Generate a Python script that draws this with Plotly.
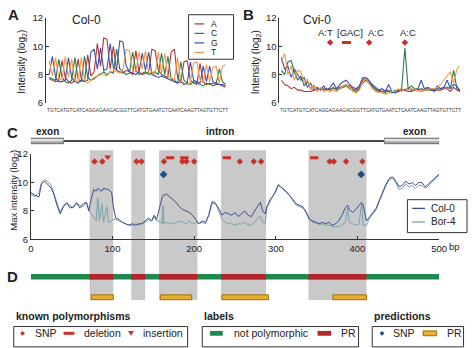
import plotly.graph_objects as go

W, H = 474, 348
def px(x): return x / W
def py(y): return 1 - y / H

FONT = "Liberation Sans, Arial, Helvetica, sans-serif"
TXT = "#222222"
AX = "#333333"

# ---------------- data ----------------
sequence = "TGTCATGTCATCAGGAGAAGACGGTTCATGTGAATCTCAATCAAGTTAGTGTTCTT"
positions = list(range(len(sequence)))
bases = ["A", "C", "G", "T"]
base_colors = ["#b03434", "#2d7a4a", "#3a50b0", "#f39a4a"]

# Panel A: Col-0 probe intensities (log2) per base
col0_A = [7.7,7.6,7.5,7.6,9.0,7.8,7.5,7.4,7.6,9.1,7.7,7.5,9.4,7.9,8.2,10.2,8.6,10.6,10.5,8.4,10.0,8.3,8.2,8.1,8.3,8.2,8.0,9.7,8.2,8.0,8.1,8.2,9.8,9.7,8.3,8.0,7.9,7.8,9.6,9.8,7.8,7.5,8.9,9.0,7.6,7.4,7.3,8.8,7.5,7.3,7.4,7.2,7.3,7.3,7.2,7.1]
col0_C = [7.8,7.7,7.6,9.1,7.8,7.5,7.4,7.6,9.2,7.7,7.5,9.3,7.8,7.6,7.7,7.9,8.0,8.2,8.0,8.2,8.1,9.8,8.4,8.2,8.0,8.1,9.6,8.3,8.0,8.1,8.2,8.0,8.1,8.2,8.0,9.5,8.0,9.3,7.7,7.6,7.4,8.9,7.6,7.4,7.3,7.5,7.4,7.3,7.2,7.4,7.3,7.4,7.3,8.4,7.5,7.3]
col0_G = [8.0,9.3,7.8,7.5,7.5,7.6,9.2,7.8,7.5,7.4,7.6,7.5,7.6,9.6,9.8,8.4,9.9,8.3,8.4,10.2,8.5,8.4,10.4,10.3,8.6,8.2,8.1,8.0,8.2,9.5,8.3,9.6,8.0,7.9,7.8,7.9,7.8,7.7,7.6,7.5,7.4,7.5,7.3,7.4,8.9,7.6,7.5,7.4,8.6,7.5,8.6,7.5,7.4,7.3,7.3,7.2]
col0_T = [9.0,7.9,9.2,7.7,7.6,9.3,7.8,9.1,7.6,7.5,9.2,7.6,7.4,7.6,7.8,7.9,8.1,8.0,7.9,8.2,8.3,8.2,8.1,8.4,9.8,9.7,8.3,8.2,9.6,8.4,9.7,8.1,8.2,8.0,9.6,8.1,9.5,7.9,7.8,7.6,9.2,7.6,7.4,7.3,7.5,8.8,8.9,7.6,7.4,8.7,7.5,8.5,8.6,7.4,8.6,8.7]

# Panel B: Cvi-0 probe intensities (log2) per base
cvi0_A = [7.6,7.3,7.2,7.0,7.1,6.9,6.9,6.8,6.8,6.8,6.9,7.0,7.0,7.0,6.9,7.0,7.0,7.0,7.1,7.2,7.3,7.2,7.0,6.9,7.1,7.6,7.8,7.6,7.2,7.0,6.9,6.8,6.9,6.8,6.8,6.8,6.9,6.9,6.9,7.0,6.9,6.9,7.0,6.8,6.9,7.0,6.9,6.9,6.9,6.9,7.0,7.0,6.8,7.1,6.9,6.8]
cvi0_C = [8.3,8.0,8.9,9.0,8.2,7.6,7.9,7.2,7.5,7.0,7.2,6.9,7.0,6.9,7.0,6.9,7.1,6.9,7.0,7.1,7.2,7.0,6.9,6.8,7.0,7.4,7.6,7.4,7.1,6.9,6.8,6.8,6.7,6.9,6.7,6.9,6.8,7.0,9.9,7.0,7.2,7.0,6.9,7.0,6.9,6.9,6.9,7.0,7.0,7.0,7.1,7.1,7.0,8.3,7.0,6.9]
cvi0_G = [9.2,8.4,8.6,7.8,8.4,8.0,7.6,7.8,7.1,7.4,6.9,7.1,6.9,7.2,6.9,7.1,7.4,7.0,7.3,7.5,7.6,7.3,7.1,7.0,7.2,7.8,7.7,7.5,7.3,7.1,6.9,7.0,6.8,7.3,6.8,6.7,6.8,6.9,6.9,6.8,6.8,6.9,7.0,7.6,7.0,7.1,7.0,6.8,7.2,7.0,7.1,7.6,7.0,7.3,7.2,6.8]
cvi0_T = [8.9,9.5,8.0,8.6,7.6,8.3,8.2,7.4,7.7,6.9,7.3,6.8,7.1,6.8,6.9,6.8,6.9,6.8,7.0,7.2,7.3,7.1,6.8,6.7,6.9,7.5,7.7,7.3,7.0,6.8,6.7,6.7,6.6,6.7,6.8,6.8,7.0,6.8,7.0,6.9,7.0,6.9,6.9,6.8,6.9,6.9,7.0,7.0,7.1,7.3,7.6,7.9,8.2,7.4,8.4,8.6]

b_snp_pos = [15, 27, 38]
b_snp_labels = ["A:T", "A:C", "A:C"]
b_snp_label_x = [13.6, 29.0, 39.0]
b_del_range = [18.6, 21.4]
b_del_label = "[GAC]"
b_del_label_x = 21.0
b_marker_y = 10.28
b_label_y = 11.0

# Panel C: max intensity along the 500 bp region
c_bp = [0,5,10,13,17,20,25,28,32,36,40,44,48,52,56,60,64,68,71,74,77,80,82,84,87,89,93,95,99,101,
        104,108,112,116,120,124,128,132,136,140,144,148,151,154,158,161,162,163,166,170,174,178,182,186,190,
        194,198,202,206,210,214,218,222,226,230,234,238,242,246,250,254,258,262,266,270,274,278,281,284,287,
        289,293,297,300,303,306,309,313,317,321,325,329,333,337,341,345,349,353,357,361,365,369,373,377,381,
        385,388,390,394,398,402,405,407,411,415,419,423,427,431,435,439,443,447,451,455,459,463,467,471,475,
        479,483,487,491,495,500]
c_col0 = [9.3,9.1,9.0,9.9,10.1,9.9,9.6,9.2,8.4,7.8,8.3,8.6,8.2,8.3,8.6,8.2,8.5,8.6,8.0,8.9,9.5,9.4,9.6,9.5,9.4,9.6,9.5,9.5,9.3,8.3,
          7.5,7.4,7.2,7.1,7.0,7.1,7.0,7.1,7.1,7.3,7.5,7.3,7.7,7.4,8.4,9.0,9.1,9.1,9.2,9.0,8.8,8.6,8.3,8.1,8.0,
          7.9,7.7,7.4,7.1,7.3,7.2,7.7,8.6,8.5,8.2,7.7,7.9,7.8,7.7,7.9,7.6,7.8,8.0,7.7,7.6,8.0,8.4,8.6,8.0,7.8,
          8.3,8.8,9.1,9.4,9.8,9.7,9.5,9.3,9.1,8.8,8.5,8.4,8.3,7.9,7.4,7.3,7.2,7.1,7.2,7.1,7.2,7.0,7.1,7.3,7.7,
          8.2,8.4,8.1,7.9,8.1,8.4,8.6,8.4,7.3,7.6,7.9,8.2,8.8,9.4,9.9,10.3,10.4,10.1,9.7,9.8,10.1,9.9,10.0,9.8,10.0,
          10.0,9.7,9.9,10.1,10.3,10.6]
c_bor4 = [9.2,9.0,9.3,10.0,10.2,10.1,9.8,9.3,8.5,7.9,8.4,8.5,8.4,8.2,8.5,8.4,8.3,8.6,8.1,7.8,7.5,7.3,8.9,7.3,8.5,7.2,8.3,7.2,7.3,7.4,
          7.4,7.3,7.2,7.1,7.0,7.0,7.1,7.0,7.1,7.2,7.4,7.3,7.6,7.3,7.3,7.1,8.4,7.1,7.2,7.1,7.1,7.2,7.3,7.2,7.1,
          7.3,7.1,7.2,7.1,7.2,7.1,7.8,8.7,8.6,8.0,7.4,7.2,7.1,7.1,7.0,7.1,7.1,7.2,7.0,7.0,7.2,7.5,7.6,7.2,7.1,
          8.2,8.7,9.1,9.3,9.9,9.7,9.6,9.4,9.0,8.7,8.4,8.3,8.2,8.0,7.5,7.2,7.2,7.0,7.1,7.0,7.0,6.9,6.9,6.9,7.0,
          7.2,8.2,7.2,7.1,7.0,7.1,8.5,7.0,7.0,7.5,7.8,8.1,8.7,9.3,9.8,10.2,10.3,10.0,9.5,9.6,9.9,9.7,9.8,9.6,9.8,
          9.8,9.6,9.8,10.0,10.2,10.5]

pr_regions = [(72, 101), (123, 140), (157, 204), (233, 288), (340, 411)]
pred_regions = [(74, 101), (158.5, 197), (234, 291), (370, 411)]
known_snp = [78, 87.5, 129.5, 135.5, 163, 185.5, 190.5, 200, 256, 273, 282, 366, 371, 386, 406]
known_del = [170.5, 188, 240, 347]
known_ins = [94]
pred_snp = [162.5, 404.5]
snp_y, del_y, ins_y, pred_y = 11.48, 11.75, 11.8, 10.57
exons = [(0, 40), (433, 500)]
gene_labels = [("exon", 20), ("intron", 232), ("exon", 470)]

# ---------------- figure ----------------
fig = go.Figure()

series_A = [col0_A, col0_C, col0_G, col0_T]
series_B = [cvi0_A, cvi0_C, cvi0_G, cvi0_T]
for b, c, ya in zip(bases, base_colors, series_A):
    fig.add_trace(go.Scatter(x=positions, y=ya, mode="lines", line=dict(color=c, width=1.1),
                             xaxis="x", yaxis="y", name=b, showlegend=False))
for b, c, yb in zip(bases, base_colors, series_B):
    fig.add_trace(go.Scatter(x=positions, y=yb, mode="lines", line=dict(color=c, width=1.1),
                             xaxis="x2", yaxis="y2", name=b, showlegend=False))

RED = "#c8302c"
fig.add_trace(go.Scatter(x=b_snp_pos, y=[b_marker_y]*len(b_snp_pos), mode="markers",
                         marker=dict(symbol="diamond", size=5, color=RED),
                         xaxis="x2", yaxis="y2", showlegend=False))
fig.add_trace(go.Scatter(x=b_del_range, y=[b_marker_y]*2, mode="lines",
                         line=dict(color=RED, width=3), xaxis="x2", yaxis="y2", showlegend=False))

# Panel C lines
COL0 = "#3d4c8e"
BOR4 = "#78a2ac"
fig.add_trace(go.Scatter(x=c_bp, y=c_bor4, mode="lines", line=dict(color=BOR4, width=1),
                         xaxis="x3", yaxis="y3", showlegend=False))
fig.add_trace(go.Scatter(x=c_bp, y=c_col0, mode="lines", line=dict(color=COL0, width=1),
                         xaxis="x3", yaxis="y3", showlegend=False))
fig.add_trace(go.Scatter(x=known_snp, y=[snp_y]*len(known_snp), mode="markers",
                         marker=dict(symbol="diamond", size=5, color=RED),
                         xaxis="x3", yaxis="y3", showlegend=False))
fig.add_trace(go.Scatter(x=known_del, y=[del_y]*len(known_del), mode="markers",
                         marker=dict(symbol="line-ew", size=6, line=dict(color=RED, width=3)),
                         xaxis="x3", yaxis="y3", showlegend=False))
fig.add_trace(go.Scatter(x=known_ins, y=[ins_y]*len(known_ins), mode="markers",
                         marker=dict(symbol="triangle-down", size=6, color=RED),
                         xaxis="x3", yaxis="y3", showlegend=False))
BLUE = "#1f4f7a"
fig.add_trace(go.Scatter(x=pred_snp, y=[pred_y]*len(pred_snp), mode="markers",
                         marker=dict(symbol="diamond", size=6, color=BLUE),
                         xaxis="x3", yaxis="y3", showlegend=False))

shapes = []
annotations = []

GRAY = "#c9c9c9"
GREEN = "#1e8a4e"
PRRED = "#b3262b"
YEL = "#e8b02e"
YELB = "#9c6e10"

for a, b in pr_regions:
    shapes.append(dict(type="rect", xref="x3", yref="paper", x0=a, x1=b, y0=py(303.5), y1=py(149),
                       fillcolor=GRAY, line=dict(width=0), layer="below"))
# D: label track
shapes.append(dict(type="rect", xref="x3", yref="paper", x0=0, x1=500, y0=py(282.3), y1=py(276.8),
                   fillcolor=GREEN, line=dict(width=0)))
for a, b in pr_regions:
    shapes.append(dict(type="rect", xref="x3", yref="paper", x0=a, x1=b, y0=py(282.3), y1=py(276.8),
                       fillcolor=PRRED, line=dict(width=0)))
for a, b in pred_regions:
    shapes.append(dict(type="rect", xref="x3", yref="paper", x0=a, x1=b, y0=py(303.3), y1=py(298.3),
                       fillcolor=YEL, line=dict(width=1, color=YELB)))
# gene structure
shapes.append(dict(type="line", xref="x3", yref="paper", x0=exons[0][1], x1=exons[1][0],
                   y0=py(139.3), y1=py(139.3), line=dict(color="#4a4a4a", width=2)))
for a, b in exons:
    shapes.append(dict(type="rect", xref="x3", yref="paper", x0=a, x1=b, y0=py(142.2), y1=py(136.5),
                       fillcolor="#a8a8a8", line=dict(width=0.8, color="#555555")))
    shapes.append(dict(type="rect", xref="x3", yref="paper", x0=a, x1=b, y0=py(139.6), y1=py(137.3),
                       fillcolor="#e2e2e2", line=dict(width=0)))
for txt, xv in gene_labels:
    annotations.append(dict(text="<b>%s</b>" % txt, xref="x3", yref="paper", x=xv, y=py(130), showarrow=False,
                            font=dict(family=FONT, size=10, color=TXT), xanchor="center", yanchor="middle"))

def ann(text, x, y, size=10, xanchor="center", bold=False, angle=0, color=TXT):
    if bold:
        text = "<b>%s</b>" % text
    annotations.append(dict(text=text, xref="paper", yref="paper", x=px(x), y=py(y), showarrow=False,
                            font=dict(family=FONT, size=size, color=color), xanchor=xanchor,
                            yanchor="middle", textangle=angle))

def rect(x0, y0, x1, y1, fill="white", lc=AX, lw=1):
    shapes.append(dict(type="rect", xref="paper", yref="paper", x0=px(x0), x1=px(x1), y0=py(y1), y1=py(y0),
                       fillcolor=fill, line=dict(width=lw, color=lc)))

def hline(x0, x1, y, color, w):
    shapes.append(dict(type="line", xref="paper", yref="paper", x0=px(x0), x1=px(x1), y0=py(y), y1=py(y),
                       line=dict(color=color, width=w)))

def path(pts, color):
    d = "M " + " L ".join("%f,%f" % (px(a), py(b)) for a, b in pts) + " Z"
    shapes.append(dict(type="path", xref="paper", yref="paper", path=d, fillcolor=color,
                       line=dict(width=0)))

def diamond(cx, cy, r, color):
    path([(cx, cy - r), (cx + r, cy), (cx, cy + r), (cx - r, cy)], color)

# panel letters
ann("A", 3, 9, size=15, xanchor="left", bold=True)
ann("B", 244, 9, size=15, xanchor="left", bold=True)
ann("C", 2, 131, size=15, xanchor="left", bold=True)
ann("D", 2, 279, size=15, xanchor="left", bold=True)

# panel titles
ann("Col-0", 85, 14, size=12)
ann("Cvi-0", 321, 14, size=12)

# y titles
ann("Intensity (log<sub>2</sub>)", 20, 58, size=10, angle=-90)
ann("Intensity (log<sub>2</sub>)", 259, 58, size=10, angle=-90)
ann("Max intensity (log<sub>2</sub>)", 11, 190, size=9.5, angle=-90)

# sequence text
ann(sequence, 137.5, 108, size=4.8, color="#333333")
ann(sequence, 376.5, 108, size=4.8, color="#333333")

# panel B SNP labels
for lab, xv in zip(b_snp_labels, b_snp_label_x):
    annotations.append(dict(text=lab, xref="x2", yref="y2", x=xv, y=b_label_y, showarrow=False,
                            font=dict(family=FONT, size=9.5, color=TXT), xanchor="center", yanchor="middle"))
annotations.append(dict(text=b_del_label, xref="x2", yref="y2", x=b_del_label_x, y=b_label_y, showarrow=False,
                        font=dict(family=FONT, size=9.5, color=TXT), xanchor="center", yanchor="middle"))

# legend A
rect(190, 9, 236, 55)
for i, (b, c) in enumerate(zip(bases, base_colors)):
    yy = 18.5 + i * 9.8
    hline(196, 206, yy, c, 1.2)
    ann(b, 211, yy, size=8.5, xanchor="left")

# legend C
rect(414, 200, 475, 234)
hline(419, 432, 209, COL0, 1.3)
ann("Col-0", 436, 209, size=10, xanchor="left")
hline(419, 432, 223, BOR4, 1.3)
ann("Bor-4", 436, 223, size=10, xanchor="left")
ann("bp", 462, 248, size=9.5)

# bottom legends
ann("known polymorphisms", 11, 320, size=10.5, xanchor="left", bold=True)
rect(11, 331, 189, 352)
diamond(20, 338, 2.5, RED)
ann("SNP", 31, 338, size=10.5, xanchor="left")
hline(62, 73, 338, RED, 3)
ann("deletion", 81, 338, size=10.5, xanchor="left")
path([(128, 335.5), (134, 335.5), (131, 340.5)], RED)
ann("insertion", 141, 338, size=10.5, xanchor="left")

ann("labels", 204, 320, size=10.5, xanchor="left", bold=True)
rect(204, 331, 364, 352)
rect(212, 335.5, 225, 340.5, fill=GREEN, lw=0)
ann("not polymorphic", 234, 338, size=10.5, xanchor="left")
rect(322, 335.5, 336, 340.5, fill=PRRED, lw=0)
ann("PR", 344, 338, size=10.5, xanchor="left")

ann("predictions", 378, 320, size=10.5, xanchor="left", bold=True)
rect(378, 331, 471.5, 352)
diamond(388, 338, 2.5, BLUE)
ann("SNP", 397, 338, size=10.5, xanchor="left")
rect(430, 335.5, 444, 340.5, fill=YEL, lc=YELB, lw=1)
ann("PR", 452, 338, size=10.5, xanchor="left")

yax_common = dict(range=[6, 12], tickvals=[6, 8, 10, 12], showline=True, linecolor=AX, linewidth=1,
                  ticks="inside", ticklen=3, tickcolor=AX, showgrid=False, zeroline=False,
                  tickfont=dict(family=FONT, size=9.5, color=TXT))

fig.update_layout(
    width=W, height=H, margin=dict(l=0, r=0, t=0, b=0),
    paper_bgcolor="white", plot_bgcolor="rgba(0,0,0,0)",
    showlegend=False,
    xaxis=dict(domain=[px(44), px(228)], range=[-1, 55], visible=False, anchor="y"),
    yaxis=dict(domain=[py(100), py(12.5)], anchor="x", **yax_common),
    xaxis2=dict(domain=[px(283), px(468)], range=[-0.6, 55], visible=False, anchor="y2"),
    yaxis2=dict(domain=[py(100), py(12.5)], anchor="x2", **yax_common),
    xaxis3=dict(domain=[px(28.5), px(446.5)], range=[0, 500], anchor="y3", tickvals=[0, 100, 200, 300, 400, 500],
                showline=True, linecolor=AX, linewidth=1, ticks="inside", ticklen=3, tickcolor=AX,
                showgrid=False, zeroline=False, tickfont=dict(family=FONT, size=9.5, color=TXT)),
    yaxis3=dict(domain=[py(241), py(153)], anchor="x3", **yax_common),
    shapes=shapes, annotations=annotations,
)

fig.write_html("out.html")
